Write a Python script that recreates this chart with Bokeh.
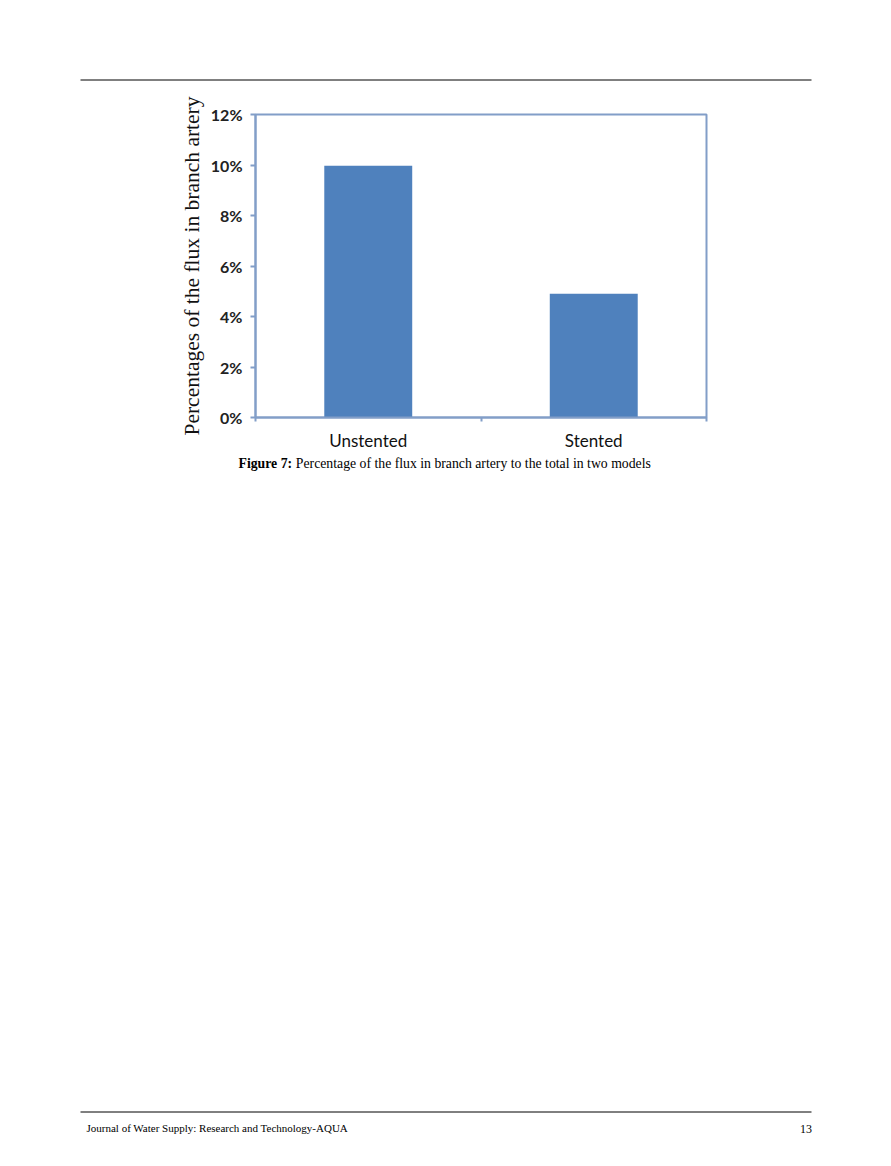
from bokeh.plotting import figure
from bokeh.layouts import column
from bokeh.models import (Range1d, NumeralTickFormatter, FixedTicker,
                          Label, ColumnDataSource)
from bokeh.embed import file_html
from bokeh.resources import INLINE

# ---- data ----
categories = ["Unstented", "Stented"]
flux_share = [0.0997, 0.049]
y_ticks = [0.0, 0.02, 0.04, 0.06, 0.08, 0.10, 0.12]
y_label = "Percentages of the flux in branch artery"
caption_bold = "Figure 7:"
caption_text = "Percentage of the flux in branch artery to the total in two models"
footer_left = "Journal of Water Supply: Research and Technology-AQUA"
footer_page = "13"

W = 875
FRAME_COLOR = "#829EC8"
BAR_COLOR = "#4F81BD"

HEAD_H = 90
MAIN_H = 363
FOOT_H = 1150 - HEAD_H - MAIN_H


def no_align(f):
    try:
        f.frame_align = False
    except AttributeError:
        pass
    return f


def page_band(height):
    f = figure(width=W, height=height, x_range=Range1d(0, W), y_range=Range1d(height, 0),
               output_backend="svg", toolbar_location=None,
               min_border=0, min_border_left=0, min_border_right=0,
               min_border_top=0, min_border_bottom=0)
    f.axis.visible = False
    f.grid.visible = False
    f.outline_line_color = None
    f.background_fill_color = "white"
    f.border_fill_color = "white"
    return no_align(f)


# ---- header band with top rule ----
head = page_band(HEAD_H)
head.segment(x0=[80], y0=[79.5], x1=[811], y1=[79.5], line_color="black", line_width=1)

# ---- main chart ----
n = len(categories)
centers = [i + 0.5 for i in range(n)]
bounds = [float(i) for i in range(n + 1)]

p = figure(width=W, height=MAIN_H, x_range=Range1d(0, n),
           y_range=Range1d(0, 0.12), output_backend="svg", toolbar_location=None,
           min_border_left=255, min_border_right=W - 706, min_border_top=114 - HEAD_H,
           min_border_bottom=HEAD_H + MAIN_H - 417)
no_align(p)
p.background_fill_color = "white"
p.border_fill_color = "white"
p.outline_line_color = FRAME_COLOR
p.outline_line_width = 2
p.xgrid.grid_line_color = None
p.ygrid.grid_line_color = None

src = ColumnDataSource(dict(x=centers, val=flux_share, cat=categories))
p.vbar(x="x", top="val", width=0.39, source=src, fill_color=BAR_COLOR,
       line_color=None)

ya = p.yaxis[0]
ya.ticker = FixedTicker(ticks=y_ticks)
ya.formatter = NumeralTickFormatter(format="0%")
ya.axis_line_color = FRAME_COLOR
ya.axis_line_width = 2
ya.major_tick_line_color = FRAME_COLOR
ya.major_tick_line_width = 2
ya.major_tick_in = 0
ya.major_tick_out = 5
ya.minor_tick_line_color = None
ya.major_label_text_font = "Lato"
ya.major_label_text_font_style = "bold"
ya.major_label_text_font_size = "16px"
ya.major_label_text_color = "#222222"
ya.major_label_standoff = 8
ya.axis_label = y_label
ya.axis_label_text_font = "Liberation Serif"
ya.axis_label_text_font_style = "normal"
ya.axis_label_text_font_size = "21.5px"
ya.axis_label_text_color = "#111111"
ya.axis_label_standoff = 4

xa = p.xaxis[0]
xa.ticker = FixedTicker(ticks=centers, minor_ticks=bounds)
xa.major_label_overrides = {c: name for c, name in zip(centers, categories)}
xa.axis_line_color = FRAME_COLOR
xa.axis_line_width = 2
xa.major_tick_line_color = None
xa.major_tick_out = 0
xa.major_tick_in = 0
xa.minor_tick_line_color = FRAME_COLOR
xa.minor_tick_line_width = 2
xa.minor_tick_in = 0
xa.minor_tick_out = 4
xa.major_label_text_font = "Lato"
xa.major_label_text_font_size = "17px"
xa.major_label_text_color = "#111111"
xa.major_label_standoff = 8

# ---- caption + footer band ----
foot = page_band(FOOT_H)
top0 = HEAD_H + MAIN_H


def text_at(x, y, txt, size, style="normal", align="left"):
    foot.add_layout(Label(x=x, y=y - top0, text=txt,
                          text_font="Liberation Serif", text_font_size=size,
                          text_font_style=style, text_align=align,
                          text_baseline="alphabetic", text_color="black"))


text_at(238, 462.5, caption_bold, "13.75px", "bold")
text_at(295.3, 462.5, caption_text, "13.75px")
foot.segment(x0=[80], y0=[1111.5 - top0], x1=[811], y1=[1111.5 - top0],
             line_color="black", line_width=1)
text_at(86, 1127.5, footer_left, "11px")
text_at(811.5, 1128.5, footer_page, "12px", align="right")

page = column(head, p, foot, spacing=0)
open("out.html", "w").write(file_html(page, INLINE))
